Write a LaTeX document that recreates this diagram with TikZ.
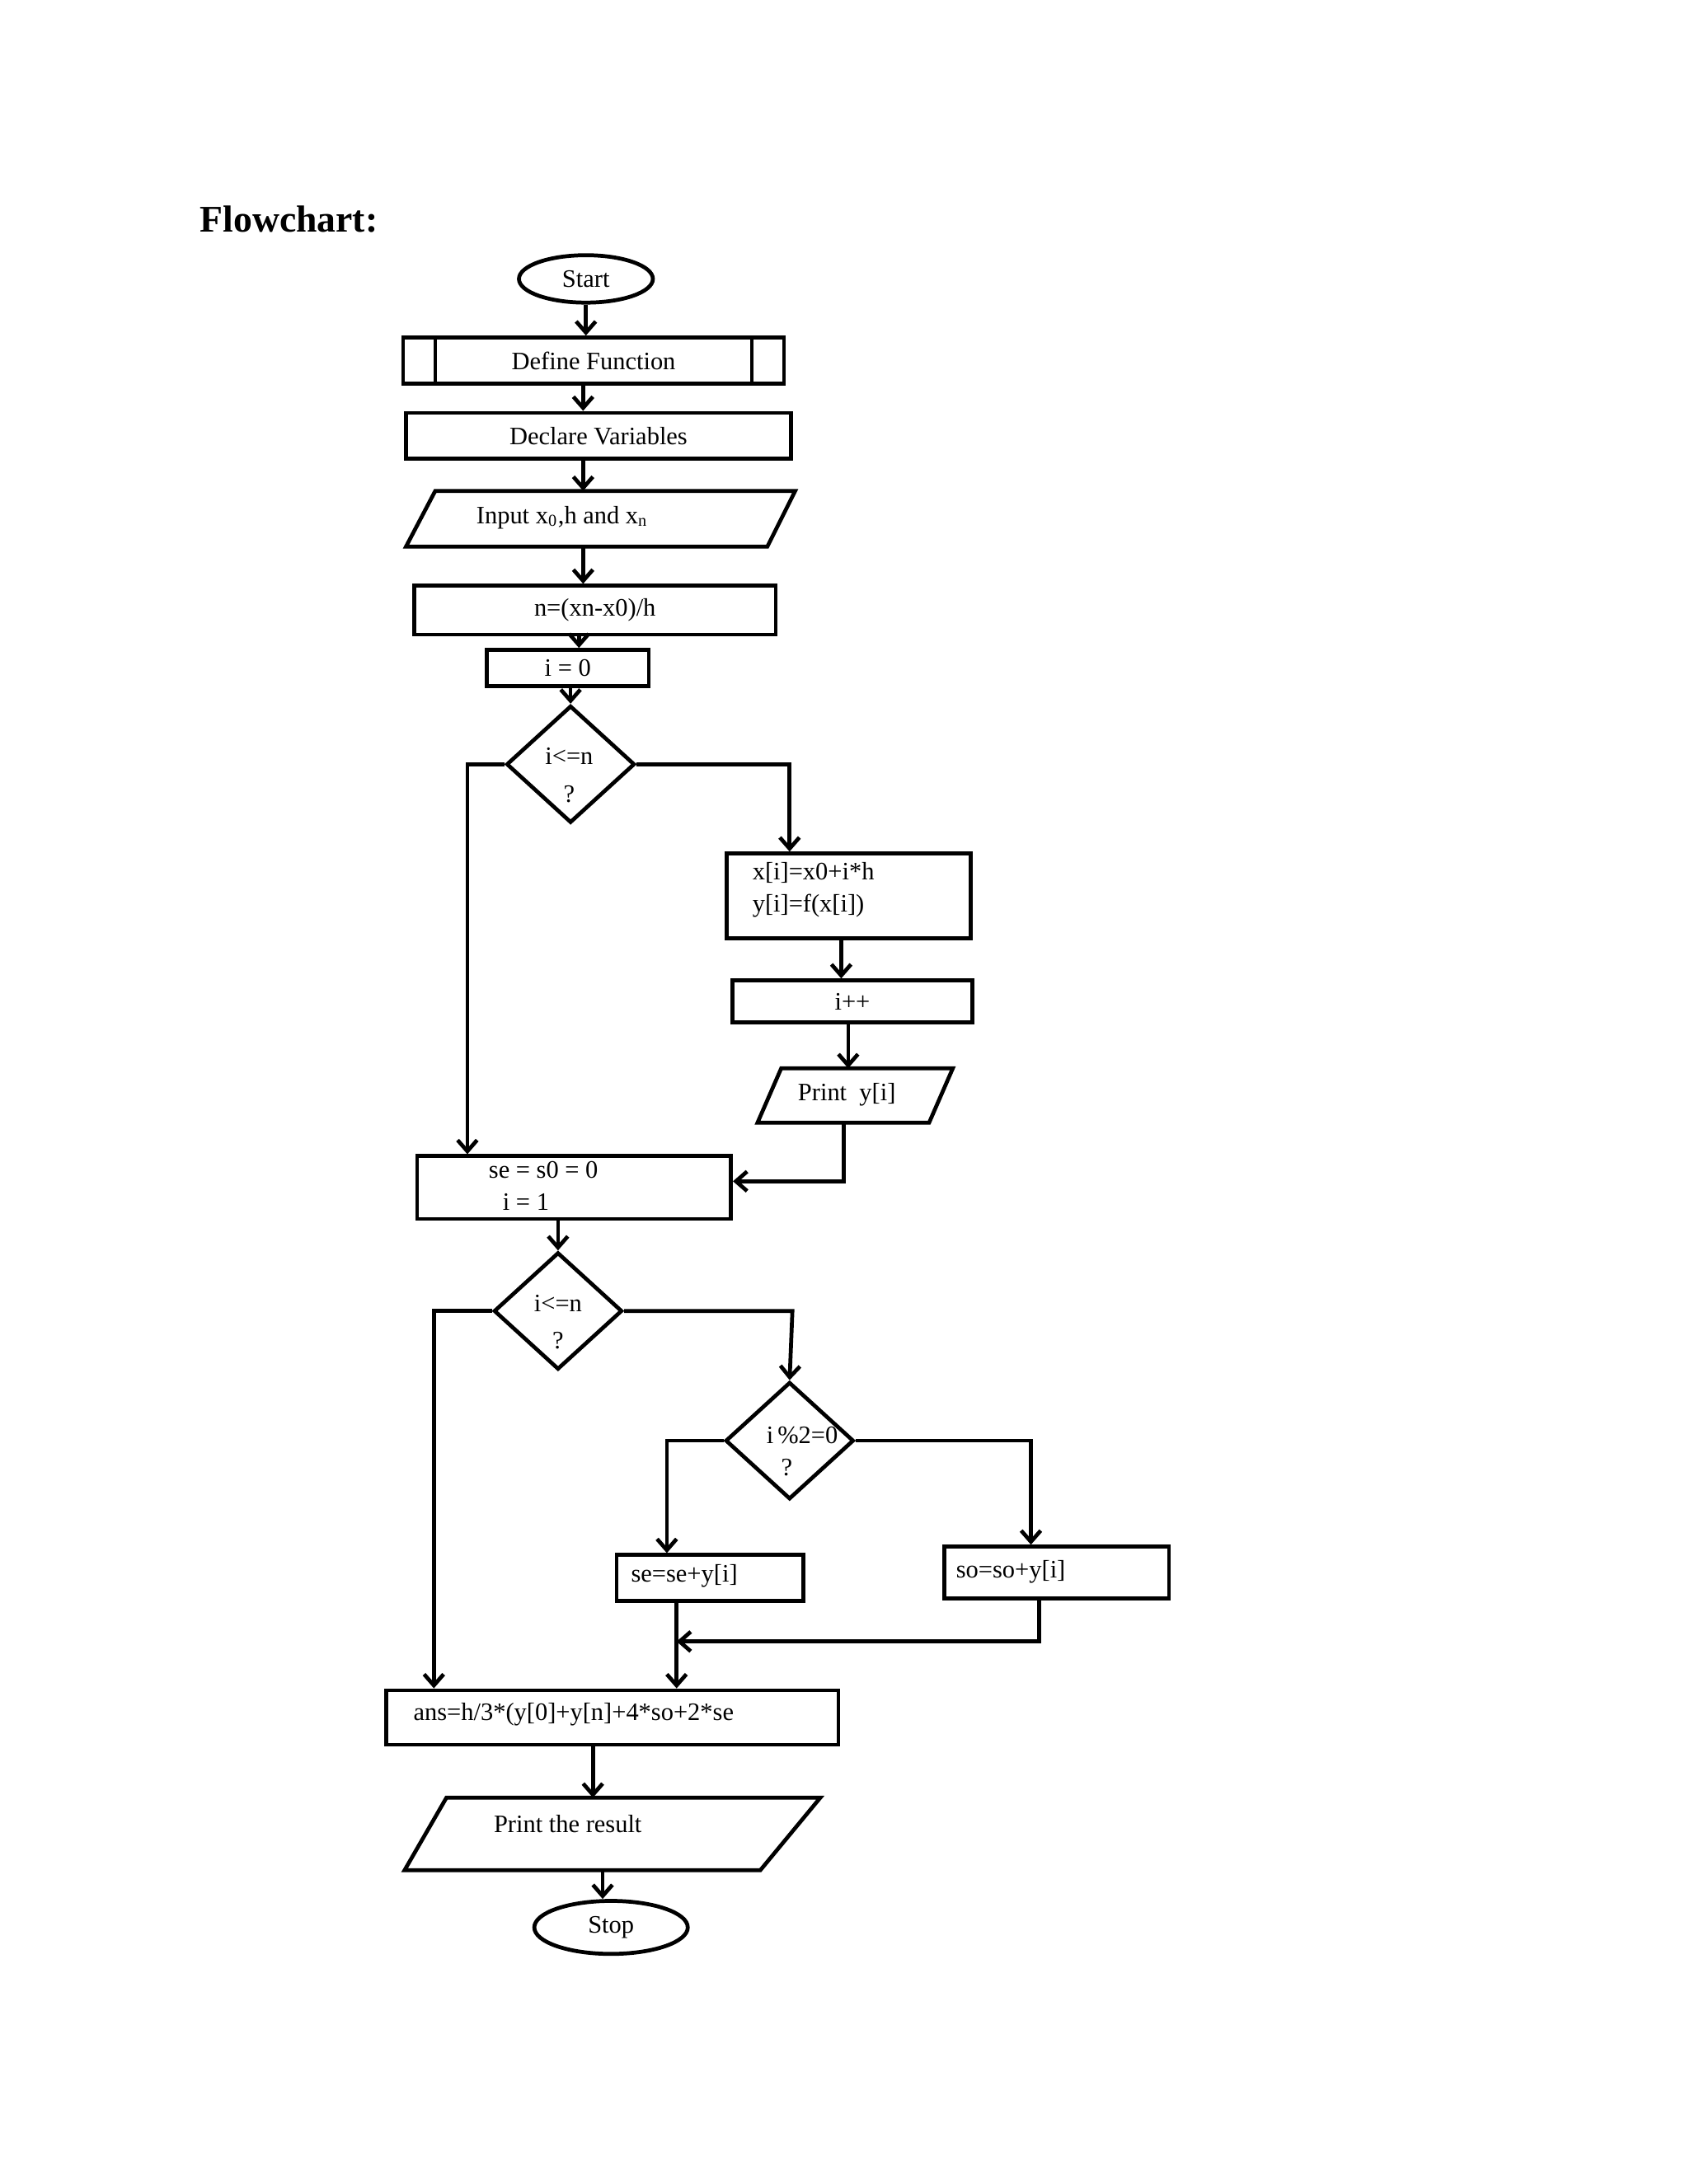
\documentclass[tikz,border=0pt]{standalone}
\usepackage{fontspec}
\setmainfont{Liberation Serif}
\usetikzlibrary{arrows.meta,shapes.geometric}
\begin{document}
\begin{tikzpicture}[x=0.5pt,y=-0.5pt,
  every node/.style={font=\fontsize{9}{11.5}\selectfont, inner sep=0},
  box/.style={draw, line width=1.4pt, rectangle},
  dia/.style={draw, line width=1.4pt, diamond, aspect=1.1, minimum width=46pt, minimum height=42pt},
  shp/.style={draw, line width=1.4pt},
  arr/.style={line width=1.4pt, -{Straight Barb[length=4pt,width=7pt]}},
  ln/.style={line width=1.4pt}]
\useasboundingbox (0,0) rectangle (1211,1566);
\node[anchor=west,font=\fontsize{13.5}{16}\selectfont\bfseries] (title) at (143,157) {Flowchart:};
\node[draw, line width=1.4pt, ellipse, minimum width=48pt, minimum height=17pt] (start) at (420,200) {Start};
\node[box, minimum width=136.5pt, minimum height=16.5pt] (def) at (425.5,258.5) {Define Function};
\draw[ln] (312,242) -- (312,275) (539,242) -- (539,275);
\node[box, minimum width=138pt, minimum height=16.5pt] (decl) at (429,312.5) {Declare Variables};
\draw[shp] (312,352) -- (570,352) -- (550,392) -- (291,392) -- cycle;
\node (inp) at (403,371) {Input x\textsubscript{0},h and x\textsubscript{n}};
\coordinate (inpT) at (418,352); \coordinate (inpB) at (418,392);
\node[box, minimum width=129.5pt, minimum height=17.5pt] (nbox) at (426.5,437.5) {n=(xn-x0)/h};
\node[box, minimum width=58pt, minimum height=13pt] (i0) at (407,479) {i = 0};
\node[dia] (d1) at (409,548) {};
\node[align=center] (d1t) at (408,556) {i<=n\\[2pt]?};
\node[box, minimum width=87.5pt, minimum height=30.5pt] (xb) at (608.5,642.5) {};
\node[anchor=west, align=left] (xbt) at (539,638) {x[i]=x0+i*h\\y[i]=f(x[i])};
\node[box, minimum width=86pt, minimum height=15pt] (ipp) at (611,718) {i++};
\draw[shp] (560,766) -- (683,766) -- (666,805) -- (543,805) -- cycle;
\node (pyt) at (607,785) {Print\ \ y[i]};
\coordinate (pyT) at (608,766); \coordinate (pyB) at (605,805);
\node[box, minimum width=112.5pt, minimum height=22.5pt] (seb) at (411.5,851.5) {};
\node[anchor=west] (sebt1) at (350,839) {se = s0 = 0};
\node[anchor=west] (sebt2) at (360,862) {i = 1};
\node[dia] (d2) at (400,940) {};
\node[align=center] (d2t) at (400,948) {i<=n\\[2pt]?};
\node[dia] (d3) at (566,1033) {};
\node (d3a) at (575,1029) {i\,\%2=0};
\node (d3b) at (564,1052) {?};
\node[box, minimum width=67pt, minimum height=16.5pt] (ses) at (509,1131.5) {};
\node[anchor=west] (sest) at (452,1130) {se=se+y[i]};
\node[box, minimum width=80.5pt, minimum height=18.5pt] (sos) at (757.5,1127.5) {};
\node[anchor=west] (sost) at (685,1127) {so=so+y[i]};
\node[box, minimum width=162pt, minimum height=19.5pt] (ans) at (439,1231.5) {};
\node[anchor=west] (anst) at (296,1229) {ans=h/3*(y[0]+y[n]+4*so+2*se};
\draw[shp] (320,1289) -- (588,1289) -- (545,1341) -- (290,1341) -- cycle;
\node (prt) at (407,1308) {Print the result};
\coordinate (prT) at (425,1289); \coordinate (prB) at (432,1341);
\node[draw, line width=1.4pt, ellipse, minimum width=55pt, minimum height=19pt] (stop) at (438,1382) {Stop};
% connectors
\draw[arr] (start.south -| 420,0) -- (def.north -| 420,0);
\draw[arr] (def.south -| 418,0) -- (decl.north -| 418,0);
\draw[arr] (decl.south -| 418,0) -- (inpT);
\draw[arr] (inpB) -- (nbox.north -| 418,0);
\draw[arr] (nbox.south -| 415,0) -- (i0.north -| 415,0);
\draw[arr] (i0.south -| 409,0) -- (d1.north);
\draw[arr] (d1.east) -- (566,548) -- (xb.north -| 566,0);
\draw[arr] (d1.west) -- (335,548) -- (seb.north -| 335,0);
\draw[arr] (xb.south -| 603,0) -- (ipp.north -| 603,0);
\draw[arr] (ipp.south -| 608,0) -- (pyT);
\draw[arr] (pyB) -- (605,847) -- (seb.east |- 0,847);
\draw[arr] (seb.south -| 400,0) -- (d2.north);
\draw[arr] (d2.east) -- (568,940) -- (d3.north);
\draw[arr] (d2.west) -- (311,940) -- (ans.north -| 311,0);
\draw[arr] (d3.west) -- (478,1033) -- (ses.north -| 478,0);
\draw[arr] (d3.east) -- (739,1033) -- (sos.north -| 739,0);
\draw[arr] (ses.south -| 485,0) -- (ans.north -| 485,0);
\draw[arr] (sos.south -| 745,0) -- (745,1177) -- (485,1177);
\draw[arr] (ans.south -| 425,0) -- (prT);
\draw[arr] (prB) -- (stop.north -| 432,0);
\end{tikzpicture}
\end{document}
